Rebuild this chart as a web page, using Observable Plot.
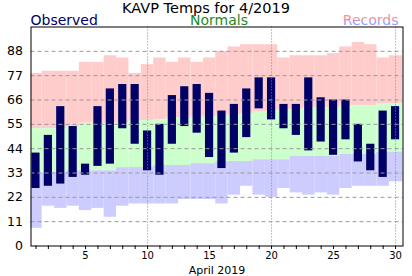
<!DOCTYPE html>
<html><head><meta charset="utf-8">
<script src="https://cdn.jsdelivr.net/npm/d3@7"></script>
<script src="https://cdn.jsdelivr.net/npm/@observablehq/plot@0.6"></script>
<style>
body{margin:0;background:#fff;}
#wrap{position:relative;width:412px;height:276px;overflow:hidden;}
#wrap > svg{position:absolute;left:0;top:0;}
</style></head><body><div id="wrap"></div>
<script>
const days      = [1,2,3,4,5,6,7,8,9,10,11,12,13,14,15,16,17,18,19,20,21,22,23,24,25,26,27,28,29,30];
const obsHigh   = [42,50,63,54,37,63,71,73,73,52,55,68,72,73,69,61,64,71,76,76,64,64,76,67,66,66,55,46,61,63];
const obsLow    = [26,27,28,31,32,36,37,53,46,34,32,46,54,51,40,35,42,49,62,57,53,50,43,47,41,48,38,34,31,48];
const normHigh  = [53,53,53,54,55.5,55.5,55.5,55.5,56.5,56.7,57,57.8,57.8,58.2,58.5,59,59.2,59.7,60.5,61,61.5,61.5,62.5,62.5,62.5,63.5,63.5,63.5,64.4,64.4];
const normLow   = [33,33,33,34,34,34,34,35.4,35.5,35.5,36.4,36.4,36.4,37.2,37.2,38.2,38.2,38.2,39,39,39,40.5,40.5,40.5,40.5,41.4,41.4,41.4,42.4,42.4];
const recHigh   = [78,79,79,79,83,83,86,85,78,82,85,83,85,83,85,88,90,91,91,91,85,86,86,86,87,90,92,91,85,86];
const recLow    = [8,18,17,18,16,17,13,18,19,19,19,19,21,21,21,19,23,27,23,22,26,24,23,24,23,26,27,27,27,29];
const yTicks    = [0,11,22,33,44,55,66,77,88];
const xLabelTicks = [5,10,15,20,25,30];
const xGrid     = [10,20,30];
const xDomain   = [0.6,30.6];
const yDomain   = [0,99];

const last = days.length - 1;
const rows = days.map((d,i)=>({
  day:d,
  x1:d-0.5,
  x2: i===last ? xDomain[1] : d+0.5,
  oh:obsHigh[i], ol:obsLow[i], nh:normHigh[i], nl:normLow[i], rh:recHigh[i], rl:recLow[i]
}));

const chart = Plot.plot({
  width:412, height:276,
  marginLeft:30.5, marginRight:9.5, marginTop:26.5, marginBottom:30.5,
  style:{fontFamily:"'DejaVu Sans', Verdana, sans-serif", background:"white", color:"#000"},
  x:{domain:xDomain},
  y:{domain:yDomain},
  marks:[
    Plot.rectY(rows,{x1:"x1",x2:"x2",y1:"nh",y2:"rh",fill:"#ffcccc",clip:true}),
    Plot.rectY(rows,{x1:"x1",x2:"x2",y1:"nl",y2:"nh",fill:"#ccffcc",clip:true}),
    Plot.rectY(rows,{x1:"x1",x2:"x2",y1:"rl",y2:"nl",fill:"#ccccff",clip:true}),
    Plot.rectY(rows,{x1:d=>d.day-0.33,x2:d=>d.day+0.33,y1:"ol",y2:"oh",fill:"#000066"}),
    Plot.ruleY(yTicks.filter(v=>v>0),{stroke:"#999",strokeWidth:1,strokeDasharray:"4,3"}),
    Plot.ruleX(xGrid,{stroke:"#888",strokeWidth:1,strokeDasharray:"1,2"}),
    Plot.axisX({ticks:days,tickSize:3.5,tickPadding:2,fontSize:10,
      tickFormat:d=>xLabelTicks.includes(d)?String(d):"",label:null}),
    Plot.axisX({ticks:[],tickSize:0,fontSize:11,
      label:"April 2019",labelAnchor:"center",labelArrow:"none",labelOffset:28}),
    Plot.axisY({ticks:yTicks,tickSize:0,tickPadding:8,fontSize:12.5,label:null}),
    Plot.frame({stroke:"#000",strokeWidth:1})
  ]
});
document.getElementById("wrap").appendChild(chart);

// header texts
const head = d3.select("#wrap").append("svg").attr("width",412).attr("height",30)
  .style("font-family","'DejaVu Sans', Verdana, sans-serif");
const grad = head.append("defs").append("linearGradient").attr("id","recGrad")
  .attr("x1",0).attr("y1",0).attr("x2",0).attr("y2",1);
grad.append("stop").attr("offset","0%").attr("stop-color","#ff8f8f");
grad.append("stop").attr("offset","38%").attr("stop-color","#ff8f8f");
grad.append("stop").attr("offset","62%").attr("stop-color","#9a9aff");
grad.append("stop").attr("offset","100%").attr("stop-color","#9a9aff");
head.append("text").attr("x",206).attr("y",13).attr("text-anchor","middle")
  .attr("font-size",14.5).attr("fill","#000").text("KAVP Temps for 4/2019");
head.append("text").attr("x",30.5).attr("y",24.5).attr("text-anchor","start")
  .attr("font-size",14).attr("fill","#000066").text("Observed");
head.append("text").attr("x",219).attr("y",25).attr("text-anchor","middle")
  .attr("font-size",14).attr("fill","#1e8a1e").text("Normals");
head.append("text").attr("x",398.5).attr("y",25).attr("text-anchor","end")
  .attr("font-size",14).attr("fill","url(#recGrad)").text("Records");
</script></body></html>
